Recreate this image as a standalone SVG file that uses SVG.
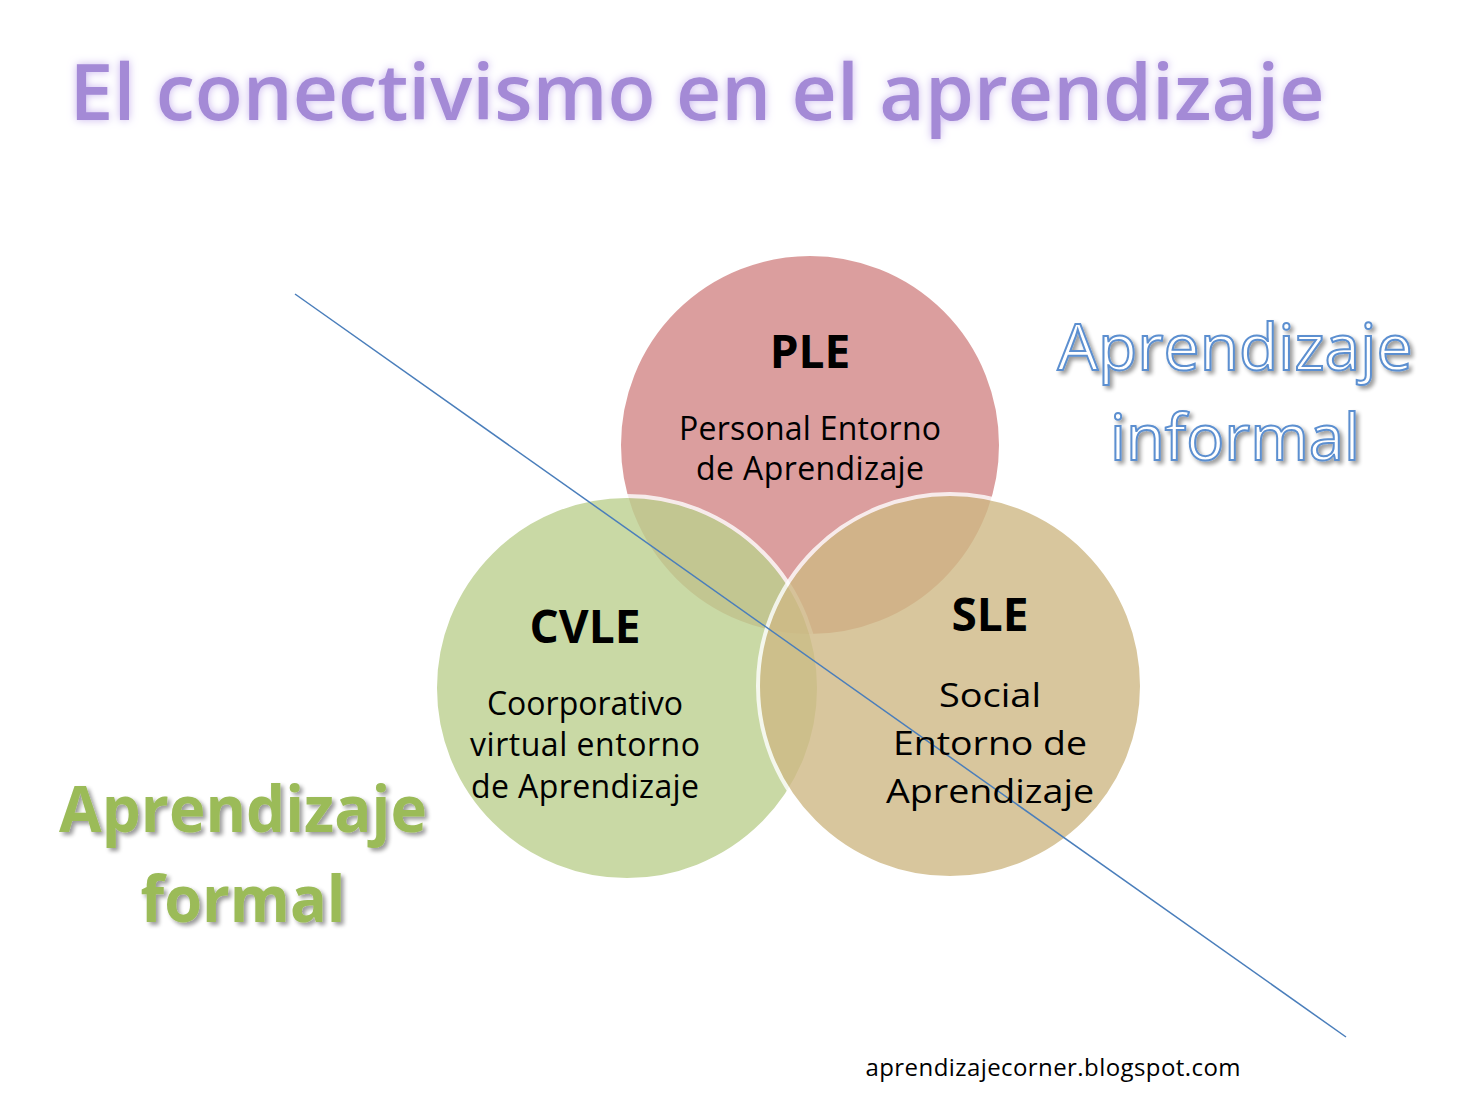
<svg xmlns="http://www.w3.org/2000/svg" width="1482" height="1101" viewBox="0 0 1482 1101">
<defs>
<filter id="glow" x="-10%" y="-30%" width="120%" height="160%"><feGaussianBlur in="SourceAlpha" stdDeviation="4" result="b"/><feFlood flood-color="#c8b4ee"/><feComposite in2="b" operator="in"/><feMerge><feMergeNode/><feMergeNode in="SourceGraphic"/></feMerge></filter>
<filter id="sh" x="-10%" y="-30%" width="120%" height="160%"><feGaussianBlur in="SourceAlpha" stdDeviation="2"/><feOffset dx="3" dy="3"/><feComponentTransfer><feFuncA type="linear" slope="0.4"/></feComponentTransfer><feMerge><feMergeNode/><feMergeNode in="SourceGraphic"/></feMerge></filter>
</defs>
<style>
text{font-family:"Open Sans","Noto Sans",sans-serif;text-anchor:middle}
.c{stroke:#fff;stroke-width:4;opacity:0.8}
.h{font-weight:bold;font-size:46px;fill:#000}
.b{font-size:32px;fill:#000}
</style>
<rect width="1482" height="1101" fill="#fff"/>
<text x="697" y="120" font-size="78" font-weight="600" fill="#a48ad6" textLength="1255" lengthAdjust="spacingAndGlyphs" filter="url(#glow)">El conectivismo en el aprendizaje</text>
<g id="ple"><circle class="c" cx="810" cy="445" r="191" fill="#d38786"/></g>
<g id="cvle"><circle class="c" cx="627" cy="688" r="192" fill="#bcd08f"/></g>
<g id="sle"><circle class="c" cx="950" cy="686" r="192" fill="#cfb985"/></g>
<g id="connectors"><line x1="295" y1="294" x2="1346" y2="1037" stroke="#4a7ebb" stroke-width="1.5"/></g>
<g id="labels">
<text class="h" x="810" y="368">PLE</text>
<text class="b" x="810" y="440" textLength="262">Personal Entorno</text>
<text class="b" x="810" y="480" textLength="228">de Aprendizaje</text>
<text class="h" x="585" y="643">CVLE</text>
<text class="b" x="585" y="715">Coorporativo</text>
<text class="b" x="585" y="756" textLength="230">virtual entorno</text>
<text class="b" x="585" y="798" textLength="228">de Aprendizaje</text>
<text class="h" x="990" y="631">SLE</text>
<text class="b" x="990" y="707" font-size="37" textLength="102" lengthAdjust="spacingAndGlyphs">Social</text>
<text class="b" x="990" y="755" font-size="37" textLength="194" lengthAdjust="spacingAndGlyphs">Entorno de</text>
<text class="b" x="990" y="803" font-size="37" textLength="208" lengthAdjust="spacingAndGlyphs">Aprendizaje</text>
</g>
<text x="1235" y="370" font-size="64" fill="#fff" stroke="#5b8fd0" stroke-width="2" textLength="355" lengthAdjust="spacingAndGlyphs" filter="url(#sh)">Aprendizaje</text>
<text x="1235" y="460" font-size="64" fill="#fff" stroke="#5b8fd0" stroke-width="2" textLength="250" lengthAdjust="spacingAndGlyphs" filter="url(#sh)">informal</text>
<text x="243" y="832" font-size="64" font-weight="bold" fill="#9bbb59" textLength="368" lengthAdjust="spacingAndGlyphs" filter="url(#sh)">Aprendizaje</text>
<text x="243" y="922" font-size="64" font-weight="bold" fill="#9bbb59" textLength="205" lengthAdjust="spacingAndGlyphs" filter="url(#sh)">formal</text>
<text x="1053" y="1076" font-size="24" fill="#000" textLength="375">aprendizajecorner.blogspot.com</text>
</svg>
